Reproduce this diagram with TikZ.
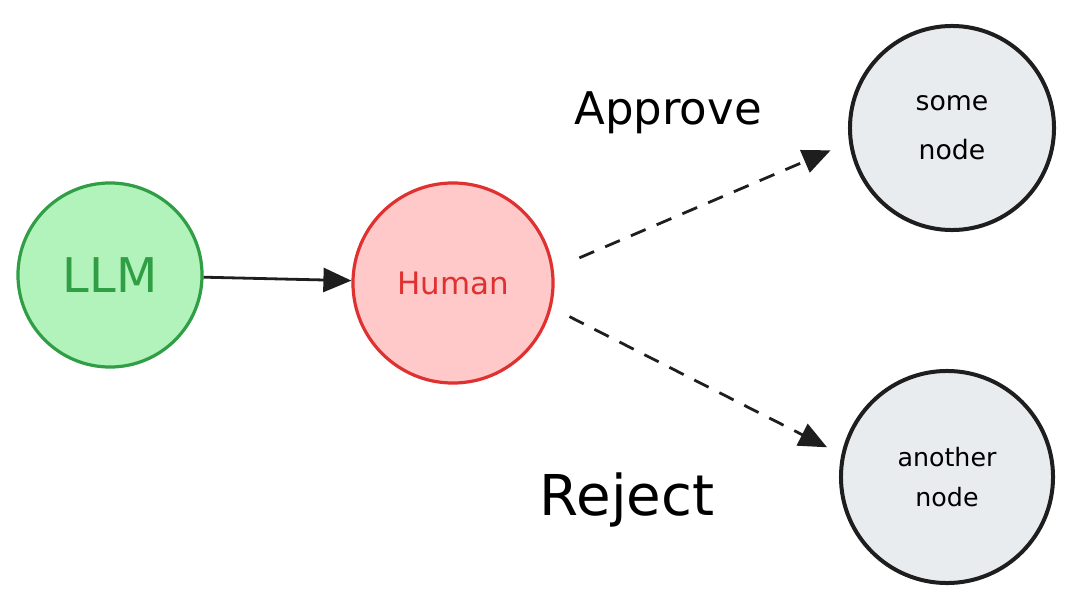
\documentclass[tikz,border=0pt]{standalone}
\usepackage{fontspec}
\setsansfont{DejaVu Sans}
\usetikzlibrary{arrows.meta,positioning}
\definecolor{llmfill}{HTML}{B2F2BB}
\definecolor{llmline}{HTML}{2F9E44}
\definecolor{humfill}{HTML}{FFC9C9}
\definecolor{humline}{HTML}{E03131}
\definecolor{grayfill}{HTML}{E9ECEF}
\definecolor{ink}{HTML}{1E1E1E}
\begin{document}
\begin{tikzpicture}[x=0.025cm,y=-0.025cm,line width=0.8mm,font=\sffamily]
  \tikzstyle{blob} = [circle,draw,inner sep=0pt]
  \tikzstyle{link} = [draw=ink,-{Triangle[length=7mm,width=6mm]},line width=0.7mm]
  \useasboundingbox (0,0) rectangle (1084,604);
  \node[blob,fill=llmfill,draw=llmline,minimum size=4.6cm,text=llmline,font=\sffamily\fontsize{34}{34}\selectfont] (L) at (110,275) {LLM};
  \node[blob,fill=humfill,draw=humline,minimum size=5cm,text=humline,font=\sffamily\fontsize{22}{22}\selectfont] (H) at (453,283) {Human};
  \node[blob,fill=grayfill,draw=ink,line width=1mm,minimum size=5.1cm,align=center,font=\sffamily\fontsize{19}{35}\selectfont] (S) at (952,128) {some\\node};
  \node[blob,fill=grayfill,draw=ink,line width=1mm,minimum size=5.3cm,align=center,font=\sffamily\fontsize{18}{28}\selectfont] (A) at (947,477) {another\\node};

  \path[link] (L) -- (H);
  \path[link,dash pattern=on 4mm off 3mm,shorten <=7mm,shorten >=5mm] (H.8) -- (S.188);
  \path[link,dash pattern=on 4mm off 3mm,shorten <=5mm,shorten >=4mm] (H.-14) -- (A.168);

  \node[font=\sffamily\fontsize{32}{32}\selectfont] (ok) at (668,113) {Approve};
  \node[font=\sffamily\fontsize{40}{40}\selectfont] (no) at (627,500) {Reject};
\end{tikzpicture}
\end{document}
